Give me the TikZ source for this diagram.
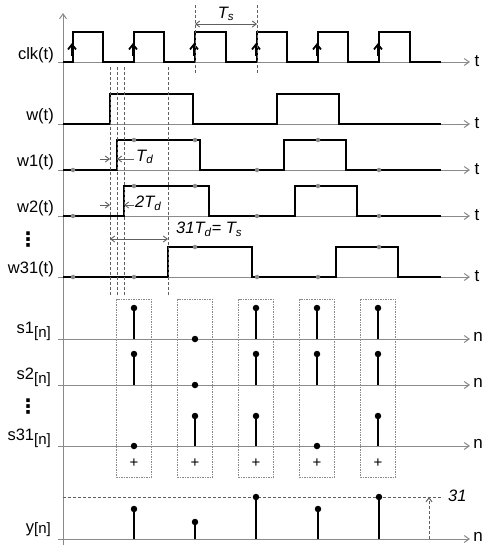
\documentclass[tikz,border=0pt]{standalone}
\usepackage{fontspec}
\setmainfont{Liberation Sans}
\newfontfamily\djv{DejaVu Sans}
\usetikzlibrary{arrows.meta}
\definecolor{axgray}{HTML}{8A8A8A}
\definecolor{dgray}{HTML}{606060}
\tikzset{
 axis/.style={draw=axgray, line width=1pt, -{Straight Barb[length=5pt,width=7pt]}},
 sig/.style={draw=black, line width=2.8pt, line join=miter, line cap=butt},
 vdash/.style={draw=dgray, line width=1pt, dash pattern=on 3pt off 2pt},
 dimarr/.style={draw=dgray, line width=0.9pt, {Straight Barb[length=4pt,width=6pt]}-{Straight Barb[length=4pt,width=6pt]}},
 onearr/.style={draw=dgray, line width=0.9pt, -{Straight Barb[length=4pt,width=6pt]}},
 clkarr/.style={draw=black, line width=1.8pt, -{Straight Barb[length=5pt,width=8pt]}},
 gdot/.style={circle, fill=axgray, inner sep=0pt, minimum size=4.5pt},
 bdot/.style={circle, fill=black, inner sep=0pt, minimum size=6.5pt},
 stemline/.style={draw=black, line width=2pt},
 sbox/.style={draw=axgray, line width=0.9pt, dash pattern=on 1.5pt off 1pt},
 lbl/.style={font=\fontsize{16.5}{18}\selectfont, inner sep=0pt, anchor=east},
 axlbl/.style={font=\fontsize{17}{18}\selectfont, inner sep=0pt},
 itlbl/.style={font=\fontsize{16.5}{18}\selectfont\itshape, inner sep=0pt},
 plus/.style={font=\fontsize{15}{16}\selectfont, inner sep=0pt},
}
\begin{document}
\begin{tikzpicture}[x=1pt,y=-1pt]
\useasboundingbox (0,0) rectangle (492,550);
% vertical axis
\draw[axis] (63,545) -- (63,13);
% time axes
\foreach \y/\nm in {62/c,124/w,170/wa,216/wb,277/wc}{
  \draw[axis] (58,\y) -- (470,\y);
  \node[axlbl] (t\nm) at (477,\y-1) {t};
}
% sample axes
\foreach \y/\nm in {339/a,385/b,446/c,539/y}{
  \draw[axis] (58,\y) -- (470,\y);
  \node[axlbl] (n\nm) at (478,\y-2) {n};
}
% labels
\node[lbl] (lclk) at (54,55) {clk(t)};
\node[lbl] (lw) at (54,116) {w(t)};
\node[lbl] (lw1) at (54,162) {w1(t)};
\node[lbl] (lw2) at (54,208) {w2(t)};
\node[lbl] (lw31) at (54,269) {w31(t)};
\node[lbl] (ls1) at (51,331) {s1\raisebox{-4pt}{\fontsize{15}{16}\selectfont[n]}};
\node[lbl] (ls2) at (51,377) {s2\raisebox{-4pt}{\fontsize{15}{16}\selectfont[n]}};
\node[lbl] (ls31) at (51,438) {s31\raisebox{-4pt}{\fontsize{15}{16}\selectfont[n]}};
\node[lbl] (ly) at (51,530) {y\raisebox{-1pt}{\fontsize{15}{16}\selectfont[n]}};
\node[inner sep=0pt, font=\djv\bfseries\fontsize{20}{20}\selectfont] (dots1) at (28,240) {⋮};
\node[inner sep=0pt, font=\djv\bfseries\fontsize{20}{20}\selectfont] (dots2) at (28,407) {⋮};
% clock
\draw[sig] (63,62) -| (73,32) -| (103,62) -| (134,32) -| (164,62) -| (195,32) -| (226,62)
  -| (257,32) -| (287,62) -| (318,32) -| (348,62) -| (379,32) -| (410,62) -- (441,62);
\foreach \x in {72,133,194,256,317,378}{
  \draw[clkarr] (\x,56) -- (\x,43);
}
% w signals
\draw[sig] (63,124) -| (110,94) -| (193,124) -| (277,94) -| (339,124) -- (441,124);
\draw[sig] (63,170) -| (117,140) -| (200,170) -| (284,140) -| (346,170) -- (441,170);
\draw[sig] (63,216) -| (124,186) -| (209,216) -| (295,186) -| (357,216) -- (441,216);
\draw[sig] (63,277) -| (168,247) -| (252,277) -| (336,247) -| (398,277) -- (441,277);
% sample dots on w1, w2, w31
\foreach \x/\y [count=\i] in {73/170,134/140,195/140,257/170,318/140,379/170}{
  \node[gdot] (pa\i) at (\x,\y) {};
}
\foreach \x/\y [count=\i] in {73/216,134/186,195/186,257/216,318/186,379/216}{
  \node[gdot] (pb\i) at (\x,\y) {};
}
\foreach \x/\y [count=\i] in {73/277,134/277,195/247,257/277,318/277,379/247}{
  \node[gdot] (pc\i) at (\x,\y) {};
}
% dashed verticals
\draw[vdash] (195,5) -- (195,73);
\draw[vdash] (257,5) -- (257,73);
\foreach \x in {110,117,124,168}{
  \draw[vdash] (\x,67) -- (\x,295);
}
% Ts
\coordinate (tsa) at (195,24);
\coordinate (tsb) at (257,24);
\draw[dimarr] (tsa) -- (tsb);
\node[itlbl] (lts) at (226,14) {T\textsubscript{s}};
% Td
\coordinate (tda) at (100,159);
\coordinate (tdb) at (110,159);
\coordinate (tdc) at (134,159);
\coordinate (tdd) at (117,159);
\draw[onearr] (tda) -- (tdb);
\draw[onearr] (tdc) -- (tdd);
\node[itlbl, anchor=west] (ltd) at (136,157) {T\textsubscript{d}};
% 2Td
\coordinate (tea) at (100,205);
\coordinate (teb) at (110,205);
\coordinate (tec) at (134,205);
\coordinate (ted) at (124,205);
\draw[onearr] (tea) -- (teb);
\draw[onearr] (tec) -- (ted);
\node[itlbl, anchor=west] (ltd2) at (135,203) {2T\textsubscript{d}};
% 31Td
\coordinate (tfa) at (110,239);
\coordinate (tfb) at (168,239);
\draw[dimarr] (tfa) -- (tfb);
\node[itlbl, anchor=west] (ltd31) at (176,229) {31T\textsubscript{d}= T\textsubscript{s}};
% boxes
\foreach \x [count=\i] in {134,195,256,317,378}{
  \draw[sbox] (\x-17.5,299) rectangle (\x+17.5,477);
  \node[plus] (pl\i) at (\x,463) {+};
}
% s1
\foreach \x/\h [count=\i] in {134/31,195/0,256/31,317/31,378/31}{
  \draw[stemline] (\x,339) -- (\x,{339-\h});
  \node[bdot] (sa\i) at (\x,{339-\h}) {};
}
% s2
\foreach \x/\h [count=\i] in {134/31,195/0,256/31,317/31,378/31}{
  \draw[stemline] (\x,385) -- (\x,{385-\h});
  \node[bdot] (sb\i) at (\x,{385-\h}) {};
}
% s31
\foreach \x/\h [count=\i] in {134/0,195/30,256/30,317/0,378/30}{
  \draw[stemline] (\x,446) -- (\x,{446-\h});
  \node[bdot] (sc\i) at (\x,{446-\h}) {};
}
% y
\draw[vdash] (63,497) -- (443,497);
\node[itlbl, anchor=west] (l31) at (448,496) {31};
\foreach \x/\t [count=\i] in {134/509,195/522,256/497,318/509,379/497}{
  \draw[stemline] (\x,539) -- (\x,\t);
  \node[bdot] (sy\i) at (\x,\t) {};
}
\coordinate (ya) at (429,539);
\coordinate (yb) at (429,497);
\draw[vdash, -{Straight Barb[length=4pt,width=6pt]}] (ya) -- (yb);
\end{tikzpicture}
\end{document}
